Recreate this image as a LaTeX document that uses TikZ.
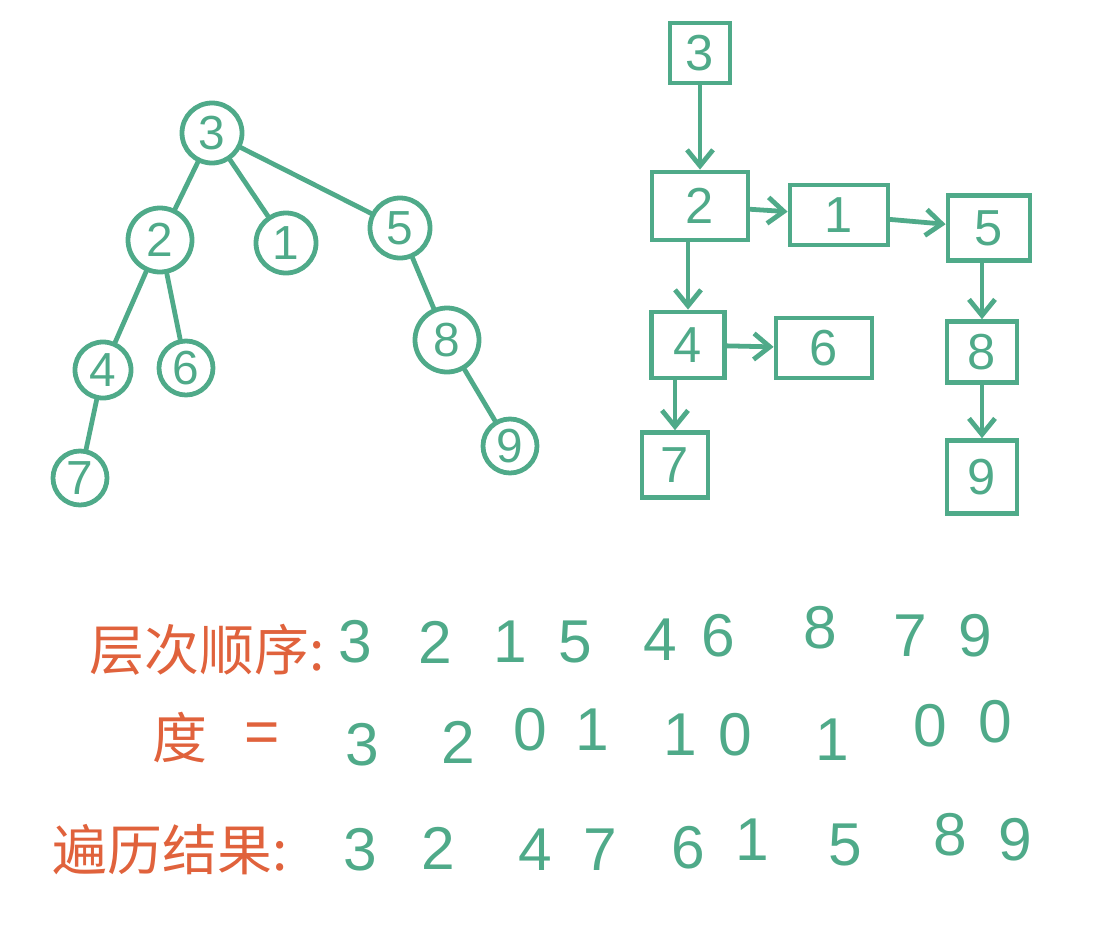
\documentclass[tikz,border=0pt]{standalone}
\usepackage{fontspec}
\setmainfont{Liberation Sans}
\newfontfamily\cjk{Noto Sans CJK SC}
\usetikzlibrary{arrows.meta}
\definecolor{grn}{HTML}{4FAA89}
\definecolor{org}{HTML}{E0623C}
\begin{document}
\begin{tikzpicture}[x=0.025cm,y=-0.025cm,
  tnode/.style={circle, draw=grn, line width=3.4pt, text=grn, minimum size=1.5cm, inner sep=0pt, font=\fontsize{34}{34}\selectfont},
  bnode/.style={rectangle, draw=grn, line width=3.4pt, text=grn, inner sep=0pt, font=\fontsize{36}{36}\selectfont},
  edge/.style={draw=grn, line width=3.4pt, line cap=round},
  arr/.style={edge, -{Straight Barb[length=0.4cm,width=0.65cm]}},
  lbl/.style={text=org, font=\cjk\fontsize{39}{39}\selectfont, anchor=west},
  num/.style={text=grn, font=\fontsize{43}{43}\selectfont}
]
\useasboundingbox (0,0) rectangle (1108,933);
% ---- tree ----
\node[tnode] (t3) at (212,133) {3};
\node[tnode, minimum size=1.6cm] (t2) at (160,240) {2};
\node[tnode] (t1) at (286,243) {1};
\node[tnode] (t5) at (400,228) {5};
\node[tnode, minimum size=1.4cm] (t4) at (103,370) {4};
\node[tnode, minimum size=1.35cm] (t6) at (186,368) {6};
\node[tnode, minimum size=1.6cm] (t8) at (447,340) {8};
\node[tnode, minimum size=1.35cm] (t7) at (80,478) {7};
\node[tnode, minimum size=1.35cm] (t9) at (510,446) {9};
\draw[edge] (t3) -- (t2);
\draw[edge] (t3) -- (t1);
\draw[edge] (t3) -- (t5);
\draw[edge] (t2) -- (t4);
\draw[edge] (t2) -- (t6);
\draw[edge] (t5) -- (t8);
\draw[edge] (t4) -- (t7);
\draw[edge] (t8) -- (t9);
% ---- child-sibling boxes ----
\node[bnode, minimum width=1.5cm, minimum height=1.5cm] (b3) at (700,53) {3};
\node[bnode, minimum width=2.4cm, minimum height=1.7cm] (b2) at (700,206) {2};
\node[bnode, minimum width=2.45cm, minimum height=1.5cm] (b1) at (839,215) {1};
\node[bnode, minimum width=2.05cm, minimum height=1.62cm] (b5) at (989,228) {5};
\node[bnode, minimum width=1.82cm, minimum height=1.65cm] (b4) at (688,345) {4};
\node[bnode, minimum width=2.4cm, minimum height=1.5cm] (b6) at (824,348) {6};
\node[bnode, minimum width=1.75cm, minimum height=1.52cm] (b8) at (982,352) {8};
\node[bnode, minimum width=1.65cm, minimum height=1.62cm] (b7) at (675,465) {7};
\node[bnode, minimum width=1.75cm, minimum height=1.82cm] (b9) at (982,477) {9};
\draw[arr] (b3) -- (b2);
\draw[arr] (b2) -- (b1);
\draw[arr] (b1) -- (b5);
\draw[arr] (b2.south -| b4.center) -- (b4.north);
\draw[arr] (b4) -- (b6);
\draw[arr] (b4.south -| b7.center) -- (b7.north);
\draw[arr] (b5.south -| b8.center) -- (b8.north);
\draw[arr] (b8) -- (b9);
% ---- rows ----
\node[lbl] (l1) at (85,650) {层次顺序:};
\node[lbl] (l2) at (148,738) {度};
\node[num, text=org] (l2e) at (262,738) {=};
\node[lbl] (l3) at (48,850) {遍历结果:};
% row 1
\node[num] (r1a) at (355,642) {3};
\node[num] (r1b) at (435,642) {2};
\node[num] (r1c) at (510,642) {1};
\node[num] (r1d) at (575,642) {5};
\node[num] (r1e) at (660,640) {4};
\node[num] (r1f) at (718,636) {6};
\node[num] (r1g) at (820,628) {8};
\node[num] (r1h) at (910,636) {7};
\node[num] (r1i) at (975,636) {9};
% row 2
\node[num] (r2a) at (362,745) {3};
\node[num] (r2b) at (458,742) {2};
\node[num] (r2c) at (530,730) {0};
\node[num] (r2d) at (592,730) {1};
\node[num] (r2e) at (680,735) {1};
\node[num] (r2f) at (735,735) {0};
\node[num] (r2g) at (832,740) {1};
\node[num] (r2h) at (930,726) {0};
\node[num] (r2i) at (995,722) {0};
% row 3
\node[num] (r3a) at (360,850) {3};
\node[num] (r3b) at (438,848) {2};
\node[num] (r3c) at (535,850) {4};
\node[num] (r3d) at (600,850) {7};
\node[num] (r3e) at (688,848) {6};
\node[num] (r3f) at (752,840) {1};
\node[num] (r3g) at (845,845) {5};
\node[num] (r3h) at (950,835) {8};
\node[num] (r3i) at (1015,840) {9};
\end{tikzpicture}
\end{document}
